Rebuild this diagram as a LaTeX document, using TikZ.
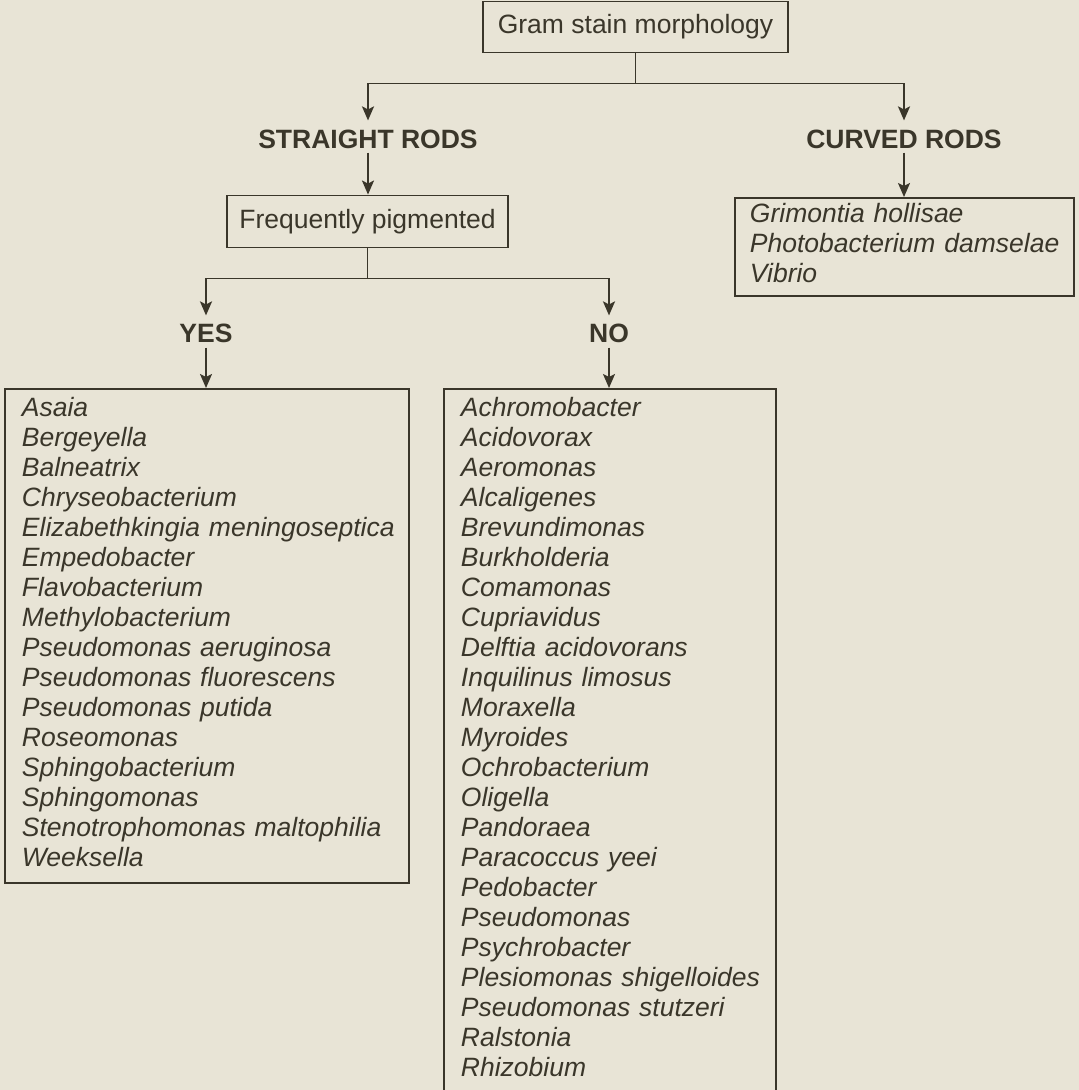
\documentclass[tikz,border=0pt]{standalone}
\usepackage{fontspec}
\setmainfont{Liberation Sans}
\usetikzlibrary{arrows.meta}
\definecolor{bg}{RGB}{232,228,214}
\definecolor{ink}{RGB}{58,54,42}
\begin{document}
\begin{tikzpicture}[x=1pt,y=-1pt,
  every node/.style={text=ink},
  font=\fontsize{26.5}{30}\selectfont,
  box/.style={draw=ink, line width=1.9pt, inner sep=0pt, font=\fontsize{26.5}{30}\selectfont},
  head/.style={inner sep=0pt, font=\fontsize{26.5}{30}\selectfont\bfseries},
  arr/.style={draw=ink, line width=1.9pt, -{Stealth[length=14pt,width=12pt,inset=3pt]}},
  list/.style={box, align=left, anchor=north west, inner xsep=17pt, inner ysep=7pt, font=\fontsize{26.5}{30}\selectfont\itshape}
]
\fill[bg] (0,0) rectangle (1079,1090);
\clip (0,0) rectangle (1079,1090);

\node[box, minimum width=305pt, minimum height=51pt] (top) at (635.5,27) {Gram stain morphology};
\node[head] (straight) at (368,139) {STRAIGHT RODS};
\node[head] (curved) at (904,139) {CURVED RODS};
\node[box, minimum width=281pt, minimum height=52pt] (freq) at (367.5,221.5) {Frequently pigmented};
\node[head] (yes) at (206,333) {YES};
\node[head] (no) at (609,333) {NO};

\node[list, text width=309pt, inner xsep=15pt, inner ysep=4pt] (curvedbox) at (734,197)
  {\strut Grimontia hollisae\\\mbox{Photobacterium damselae}\\Vibrio\strut};

\node[list, text width=370pt] (yesbox) at (4,388)
  {\strut Asaia\\Bergeyella\\Balneatrix\\Chryseobacterium\\\mbox{Elizabethkingia meningoseptica}\\Empedobacter\\Flavobacterium\\Methylobacterium\\Pseudomonas aeruginosa\\Pseudomonas fluorescens\\Pseudomonas putida\\Roseomonas\\Sphingobacterium\\Sphingomonas\\\mbox{Stenotrophomonas maltophilia}\\Weeksella\strut};

\node[list, text width=298pt] (nobox) at (443,388)
  {\strut Achromobacter\\Acidovorax\\Aeromonas\\Alcaligenes\\Brevundimonas\\Burkholderia\\Comamonas\\Cupriavidus\\Delftia acidovorans\\Inquilinus limosus\\Moraxella\\Myroides\\Ochrobacterium\\Oligella\\Pandoraea\\Paracoccus yeei\\Pedobacter\\Pseudomonas\\Psychrobacter\\\mbox{Plesiomonas shigelloides}\\\mbox{Pseudomonas stutzeri}\\Ralstonia\\Rhizobium\strut};

\draw[arr, shorten >=9pt] (top.south) -- ++(0,30) -| (straight.north);
\draw[arr, shorten >=9pt] (top.south) -- ++(0,30) -| (curved.north);
\draw[arr, shorten <=4pt] (straight.south) -- (straight.south |- freq.north);
\draw[arr, shorten <=4pt] (curved.south) -- (curved.south |- curvedbox.north);
\draw[arr, shorten >=8pt] (freq.south) -- ++(0,30) -| (yes.north);
\draw[arr, shorten >=8pt] (freq.south) -- ++(0,30) -| (no.north);
\draw[arr, shorten <=5pt] (yes.south) -- (yes.south |- yesbox.north);
\draw[arr, shorten <=5pt] (no.south) -- (no.south |- nobox.north);
\end{tikzpicture}
\end{document}
